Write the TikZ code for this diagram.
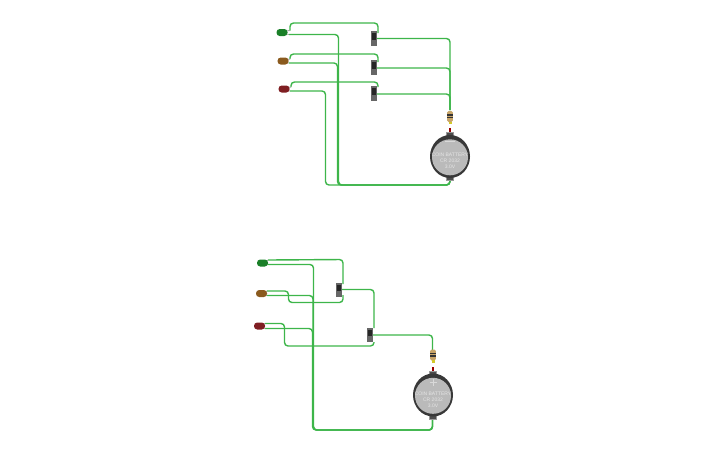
\documentclass[tikz,border=0pt]{standalone}
\usepackage{fontspec}
\setmainfont{Liberation Sans}
\usetikzlibrary{calc,shapes.geometric}
\definecolor{wire}{HTML}{3DB54A}
\definecolor{ledg}{HTML}{1A7F28}
\definecolor{ledb}{HTML}{8A5A1E}
\definecolor{ledr}{HTML}{7F1E22}
\definecolor{restan}{HTML}{C8A468}
\tikzset{
 wirel/.style={draw=wire,line width=1.4pt,rounded corners=3.5pt},
 legl/.style={draw=black!35,line width=.9pt},
 led/.style={draw=none,fill=#1,minimum width=11pt,minimum height=7pt,inner sep=0pt,rounded corners=3.2pt},
 swbody/.style={draw=none,fill=black!60,minimum width=6pt,minimum height=14.5pt,inner sep=0pt},
 swknob/.style={draw=none,fill=black!85,minimum width=3.6pt,minimum height=6.5pt,inner sep=0pt},
 resbody/.style={draw=none,fill=restan,minimum width=5.6pt,minimum height=11pt,inner sep=0pt,rounded corners=1.5pt},
 band/.style={draw=none,fill=#1,minimum width=5.6pt,minimum height=1.2pt,inner sep=0pt},
 battout/.style={ellipse,draw=none,fill=black!78,minimum width=40pt,minimum height=43pt,inner sep=0pt},
 battin/.style={circle,draw=none,fill=black!27,minimum size=36pt,inner sep=0pt},
 battlab/.style={text=white!90!black,font=\fontsize{5}{6}\selectfont,align=center,inner sep=0pt},
 tab/.style={draw=white!60!black,line width=.5pt,fill=black!70,minimum width=7pt,minimum height=4pt,inner sep=0pt},
 pinr/.style={draw=none,fill=red!60!black,minimum width=2.6pt,minimum height=5pt,inner sep=0pt},
 leadl/.style={draw=none,fill=yellow!80!black,minimum width=3pt,minimum height=2.6pt,inner sep=0pt}
}
\begin{document}
\begin{tikzpicture}[x=1pt,y=-1pt]
\useasboundingbox (0,0) rectangle (725,453);
% pins / free ends
\foreach \n/\x/\y in {
 a1/290/30.5,a2/289/34.5,b1/290/59,b2/289/63,c1/291/87,c2/290/91,
 sa/378/33,sb/378/62,sc/378/87,oa/377/38.5,ob/377/68,oc/377/94,
 rt/450/110,bn/450/179,
 d1/268/260,d2/268/264.5,e1/267/291,e2/267/295.5,f1/265/323.5,f2/265/328.5,
 sd/343/284,se/343/295,sf/374/328,sg/374/342,od/342/289.5,oe/373/335,
 rb/432.5/350,bm/432.5/417}{\coordinate (\n) at (\x,\y);}
% wires, circuit 1
\draw[wirel] (a1) -- (290,23) -- (378,23) -- (sa);
\draw[wirel] (b1) -- (290,54) -- (378,54) -- (sb);
\draw[wirel] (c1) -- (291,82) -- (378,82) -- (sc);
\draw[wirel] (oa) -- (450,38.5) -- (rt);
\draw[wirel] (ob) -- (450,68) -- (rt);
\draw[wirel] (oc) -- (450,94) -- (rt);
\draw[wirel] (a2) -- (338.5,34.5) -- (338.5,185) -- (450,185) -- (bn);
\draw[wirel] (b2) -- (337.5,63) -- (337.5,185) -- (450,185) -- (bn);
\draw[wirel] (c2) -- (325.5,91) -- (325.5,185) -- (450,185) -- (bn);
% wires, circuit 2
\draw[wirel] (d1) -- (343,259.5) -- (sd);
\draw[wirel] (d2) -- (313.5,264.5) -- (313.5,430) -- (432.5,430) -- (bm);
\draw[wirel] (e1) -- (288.5,291) -- (288.5,302.5) -- (343,302.5) -- (se);
\draw[wirel] (e2) -- (313,295.5) -- (313,430) -- (432.5,430) -- (bm);
\draw[wirel] (f1) -- (284.5,323.5) -- (284.5,346) -- (374,346) -- (sg);
\draw[wirel] (f2) -- (312.5,328.5) -- (312.5,430) -- (432.5,430) -- (bm);
\draw[wirel] (od) -- (374,289.5) -- (sf);
\draw[wirel] (oe) -- (432.5,335) -- (rb);
% LEDs
\foreach \n/\x/\y/\c/\p/\q in {
 la/282/32.5/ledg/a1/a2,lb/283/61/ledb/b1/b2,lc/284/89/ledr/c1/c2,
 ld/262.5/263/ledg/d1/d2,le/261.5/293.5/ledb/e1/e2,lf/259.5/326/ledr/f1/f2}{
 \draw[legl] (\x+4,\y-1.5) -- (\p);
 \draw[legl] (\x+4,\y+1.5) -- (\q);
 \node[led=\c] (\n) at (\x,\y) {};
}
% switches
\foreach \n/\x/\y in {swa/374/38.5,swb/374/67.5,swc/374/93.5,swd/339/290,swe/370/335}{
 \node[swbody] (\n) at (\x,\y) {};
 \node[swknob] (\n k) at (\x,\y-2) {};
}
% resistors and batteries
\foreach \n/\x/\y in {ba/450/156.5,bb/433/395}{
 \node[pinr] (\n p) at (\x,\y-26) {};
 \node[tab] (\n t) at (\x,\y-22) {};
 \node[tab] (\n u) at (\x,\y+22) {};
 \node[battout] (\n o) at (\x,\y) {};
 \node[battin] (\n i) at (\x,\y+0.8) {};
 \node[battlab] (\n l) at (\x,\y+4.5) {COIN BATTERY\\CR 2032\\3.0V};
 \node[resbody] (\n r) at (\x,\y-40) {};
 \node[band=black!80] (\n b1) at (\x,\y-41.5) {};
 \node[band=black!80] (\n b2) at (\x,\y-39) {};
 \node[leadl] (\n b3) at (\x,\y-33.5) {};
}
\draw[draw=white!85!black,line width=.5pt] (445,141.5) -- (455,141.5) (433,379) -- (433,386) (429.5,382.5) -- (436.5,382.5);
\end{tikzpicture}
\end{document}
